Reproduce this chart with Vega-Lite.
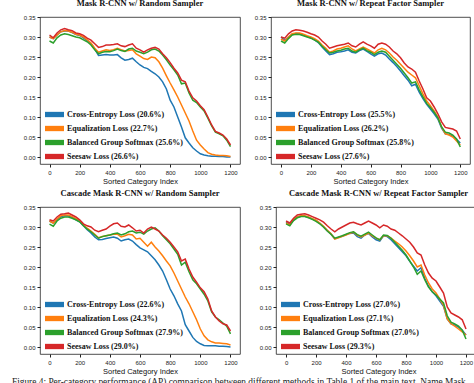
{
"$schema": "https://vega.github.io/schema/vega-lite/v6.json",
"padding": {"left": 11, "top": -2, "right": 0, "bottom": 0},
"background": "white",
"datasets": {"d": [
{"p":1,"x":0,"ce":0.300,"eql":0.300,"bgs":0.290,"ss":0.305},
{"p":1,"x":25,"ce":0.296,"eql":0.296,"bgs":0.285,"ss":0.298},
{"p":1,"x":50,"ce":0.305,"eql":0.305,"bgs":0.298,"ss":0.310},
{"p":1,"x":75,"ce":0.313,"eql":0.313,"bgs":0.305,"ss":0.318},
{"p":1,"x":100,"ce":0.315,"eql":0.316,"bgs":0.308,"ss":0.321},
{"p":1,"x":125,"ce":0.315,"eql":0.315,"bgs":0.306,"ss":0.318},
{"p":1,"x":150,"ce":0.311,"eql":0.312,"bgs":0.303,"ss":0.316},
{"p":1,"x":175,"ce":0.306,"eql":0.307,"bgs":0.300,"ss":0.310},
{"p":1,"x":200,"ce":0.304,"eql":0.305,"bgs":0.298,"ss":0.308},
{"p":1,"x":225,"ce":0.298,"eql":0.300,"bgs":0.293,"ss":0.304},
{"p":1,"x":250,"ce":0.291,"eql":0.293,"bgs":0.288,"ss":0.297},
{"p":1,"x":275,"ce":0.283,"eql":0.285,"bgs":0.280,"ss":0.292},
{"p":1,"x":300,"ce":0.270,"eql":0.272,"bgs":0.268,"ss":0.283},
{"p":1,"x":325,"ce":0.254,"eql":0.262,"bgs":0.258,"ss":0.274},
{"p":1,"x":350,"ce":0.255,"eql":0.265,"bgs":0.262,"ss":0.276},
{"p":1,"x":375,"ce":0.256,"eql":0.268,"bgs":0.264,"ss":0.280},
{"p":1,"x":400,"ce":0.255,"eql":0.266,"bgs":0.263,"ss":0.280},
{"p":1,"x":425,"ce":0.255,"eql":0.268,"bgs":0.266,"ss":0.281},
{"p":1,"x":450,"ce":0.256,"eql":0.272,"bgs":0.270,"ss":0.283},
{"p":1,"x":475,"ce":0.248,"eql":0.268,"bgs":0.266,"ss":0.278},
{"p":1,"x":500,"ce":0.242,"eql":0.265,"bgs":0.264,"ss":0.276},
{"p":1,"x":525,"ce":0.244,"eql":0.266,"bgs":0.270,"ss":0.280},
{"p":1,"x":550,"ce":0.247,"eql":0.268,"bgs":0.272,"ss":0.283},
{"p":1,"x":575,"ce":0.238,"eql":0.258,"bgs":0.265,"ss":0.272},
{"p":1,"x":600,"ce":0.230,"eql":0.252,"bgs":0.262,"ss":0.268},
{"p":1,"x":625,"ce":0.224,"eql":0.246,"bgs":0.258,"ss":0.262},
{"p":1,"x":650,"ce":0.221,"eql":0.244,"bgs":0.262,"ss":0.268},
{"p":1,"x":675,"ce":0.214,"eql":0.250,"bgs":0.268,"ss":0.272},
{"p":1,"x":700,"ce":0.208,"eql":0.248,"bgs":0.270,"ss":0.274},
{"p":1,"x":725,"ce":0.200,"eql":0.238,"bgs":0.265,"ss":0.270},
{"p":1,"x":750,"ce":0.188,"eql":0.222,"bgs":0.255,"ss":0.258},
{"p":1,"x":775,"ce":0.170,"eql":0.203,"bgs":0.243,"ss":0.248},
{"p":1,"x":800,"ce":0.142,"eql":0.185,"bgs":0.230,"ss":0.236},
{"p":1,"x":825,"ce":0.125,"eql":0.168,"bgs":0.218,"ss":0.222},
{"p":1,"x":850,"ce":0.100,"eql":0.150,"bgs":0.205,"ss":0.210},
{"p":1,"x":875,"ce":0.075,"eql":0.130,"bgs":0.183,"ss":0.192},
{"p":1,"x":900,"ce":0.048,"eql":0.110,"bgs":0.185,"ss":0.188},
{"p":1,"x":925,"ce":0.035,"eql":0.090,"bgs":0.160,"ss":0.165},
{"p":1,"x":950,"ce":0.023,"eql":0.065,"bgs":0.142,"ss":0.148},
{"p":1,"x":975,"ce":0.015,"eql":0.042,"bgs":0.136,"ss":0.140},
{"p":1,"x":1000,"ce":0.008,"eql":0.030,"bgs":0.125,"ss":0.128},
{"p":1,"x":1025,"ce":0.005,"eql":0.020,"bgs":0.115,"ss":0.118},
{"p":1,"x":1050,"ce":0.003,"eql":0.011,"bgs":0.097,"ss":0.100},
{"p":1,"x":1075,"ce":0.002,"eql":0.007,"bgs":0.078,"ss":0.080},
{"p":1,"x":1100,"ce":0.002,"eql":0.005,"bgs":0.062,"ss":0.064},
{"p":1,"x":1125,"ce":0.001,"eql":0.004,"bgs":0.058,"ss":0.060},
{"p":1,"x":1150,"ce":0.001,"eql":0.004,"bgs":0.053,"ss":0.055},
{"p":1,"x":1175,"ce":0.000,"eql":0.003,"bgs":0.042,"ss":0.045},
{"p":1,"x":1200,"ce":0.000,"eql":0.001,"bgs":0.026,"ss":0.030},
{"p":2,"x":0,"ce":0.300,"eql":0.295,"bgs":0.290,"ss":0.300},
{"p":2,"x":25,"ce":0.292,"eql":0.290,"bgs":0.285,"ss":0.297},
{"p":2,"x":50,"ce":0.300,"eql":0.300,"bgs":0.296,"ss":0.308},
{"p":2,"x":75,"ce":0.307,"eql":0.308,"bgs":0.305,"ss":0.315},
{"p":2,"x":100,"ce":0.309,"eql":0.310,"bgs":0.307,"ss":0.318},
{"p":2,"x":125,"ce":0.308,"eql":0.310,"bgs":0.306,"ss":0.317},
{"p":2,"x":150,"ce":0.305,"eql":0.307,"bgs":0.303,"ss":0.315},
{"p":2,"x":175,"ce":0.301,"eql":0.303,"bgs":0.300,"ss":0.312},
{"p":2,"x":200,"ce":0.298,"eql":0.300,"bgs":0.297,"ss":0.308},
{"p":2,"x":225,"ce":0.293,"eql":0.296,"bgs":0.292,"ss":0.305},
{"p":2,"x":250,"ce":0.286,"eql":0.290,"bgs":0.287,"ss":0.300},
{"p":2,"x":275,"ce":0.275,"eql":0.280,"bgs":0.277,"ss":0.290},
{"p":2,"x":300,"ce":0.265,"eql":0.272,"bgs":0.268,"ss":0.282},
{"p":2,"x":325,"ce":0.256,"eql":0.262,"bgs":0.260,"ss":0.272},
{"p":2,"x":350,"ce":0.258,"eql":0.265,"bgs":0.262,"ss":0.275},
{"p":2,"x":375,"ce":0.262,"eql":0.270,"bgs":0.265,"ss":0.278},
{"p":2,"x":400,"ce":0.263,"eql":0.272,"bgs":0.267,"ss":0.280},
{"p":2,"x":425,"ce":0.265,"eql":0.275,"bgs":0.270,"ss":0.282},
{"p":2,"x":450,"ce":0.268,"eql":0.278,"bgs":0.272,"ss":0.285},
{"p":2,"x":475,"ce":0.262,"eql":0.270,"bgs":0.265,"ss":0.278},
{"p":2,"x":500,"ce":0.260,"eql":0.265,"bgs":0.262,"ss":0.275},
{"p":2,"x":525,"ce":0.266,"eql":0.270,"bgs":0.268,"ss":0.282},
{"p":2,"x":550,"ce":0.270,"eql":0.275,"bgs":0.272,"ss":0.288},
{"p":2,"x":575,"ce":0.264,"eql":0.270,"bgs":0.266,"ss":0.282},
{"p":2,"x":600,"ce":0.258,"eql":0.265,"bgs":0.262,"ss":0.278},
{"p":2,"x":625,"ce":0.252,"eql":0.260,"bgs":0.256,"ss":0.272},
{"p":2,"x":650,"ce":0.258,"eql":0.268,"bgs":0.262,"ss":0.282},
{"p":2,"x":675,"ce":0.260,"eql":0.272,"bgs":0.265,"ss":0.285},
{"p":2,"x":700,"ce":0.255,"eql":0.268,"bgs":0.262,"ss":0.282},
{"p":2,"x":725,"ce":0.245,"eql":0.260,"bgs":0.252,"ss":0.275},
{"p":2,"x":750,"ce":0.236,"eql":0.250,"bgs":0.242,"ss":0.265},
{"p":2,"x":775,"ce":0.226,"eql":0.242,"bgs":0.232,"ss":0.258},
{"p":2,"x":800,"ce":0.215,"eql":0.232,"bgs":0.222,"ss":0.248},
{"p":2,"x":825,"ce":0.203,"eql":0.222,"bgs":0.210,"ss":0.235},
{"p":2,"x":850,"ce":0.192,"eql":0.212,"bgs":0.198,"ss":0.225},
{"p":2,"x":875,"ce":0.178,"eql":0.205,"bgs":0.185,"ss":0.220},
{"p":2,"x":900,"ce":0.182,"eql":0.198,"bgs":0.188,"ss":0.212},
{"p":2,"x":925,"ce":0.162,"eql":0.178,"bgs":0.168,"ss":0.190},
{"p":2,"x":950,"ce":0.146,"eql":0.158,"bgs":0.150,"ss":0.170},
{"p":2,"x":975,"ce":0.132,"eql":0.140,"bgs":0.134,"ss":0.148},
{"p":2,"x":1000,"ce":0.120,"eql":0.128,"bgs":0.124,"ss":0.140},
{"p":2,"x":1025,"ce":0.108,"eql":0.115,"bgs":0.112,"ss":0.125},
{"p":2,"x":1050,"ce":0.095,"eql":0.100,"bgs":0.098,"ss":0.108},
{"p":2,"x":1075,"ce":0.072,"eql":0.075,"bgs":0.075,"ss":0.088},
{"p":2,"x":1100,"ce":0.058,"eql":0.058,"bgs":0.062,"ss":0.074},
{"p":2,"x":1125,"ce":0.056,"eql":0.055,"bgs":0.060,"ss":0.072},
{"p":2,"x":1150,"ce":0.052,"eql":0.050,"bgs":0.055,"ss":0.070},
{"p":2,"x":1175,"ce":0.044,"eql":0.040,"bgs":0.045,"ss":0.065},
{"p":2,"x":1200,"ce":0.035,"eql":0.030,"bgs":0.025,"ss":0.045},
{"p":3,"x":0,"ce":0.315,"eql":0.315,"bgs":0.307,"ss":0.318},
{"p":3,"x":25,"ce":0.310,"eql":0.310,"bgs":0.302,"ss":0.315},
{"p":3,"x":50,"ce":0.318,"eql":0.320,"bgs":0.315,"ss":0.325},
{"p":3,"x":75,"ce":0.326,"eql":0.328,"bgs":0.322,"ss":0.332},
{"p":3,"x":100,"ce":0.328,"eql":0.330,"bgs":0.325,"ss":0.333},
{"p":3,"x":125,"ce":0.328,"eql":0.330,"bgs":0.325,"ss":0.335},
{"p":3,"x":150,"ce":0.324,"eql":0.326,"bgs":0.322,"ss":0.330},
{"p":3,"x":175,"ce":0.318,"eql":0.321,"bgs":0.318,"ss":0.325},
{"p":3,"x":200,"ce":0.313,"eql":0.316,"bgs":0.313,"ss":0.318},
{"p":3,"x":225,"ce":0.303,"eql":0.305,"bgs":0.303,"ss":0.308},
{"p":3,"x":250,"ce":0.293,"eql":0.297,"bgs":0.295,"ss":0.303},
{"p":3,"x":275,"ce":0.285,"eql":0.290,"bgs":0.288,"ss":0.300},
{"p":3,"x":300,"ce":0.275,"eql":0.282,"bgs":0.280,"ss":0.292},
{"p":3,"x":325,"ce":0.268,"eql":0.273,"bgs":0.272,"ss":0.288},
{"p":3,"x":350,"ce":0.269,"eql":0.276,"bgs":0.276,"ss":0.292},
{"p":3,"x":375,"ce":0.271,"eql":0.278,"bgs":0.278,"ss":0.295},
{"p":3,"x":400,"ce":0.273,"eql":0.280,"bgs":0.280,"ss":0.302},
{"p":3,"x":425,"ce":0.275,"eql":0.282,"bgs":0.283,"ss":0.308},
{"p":3,"x":450,"ce":0.272,"eql":0.282,"bgs":0.285,"ss":0.310},
{"p":3,"x":475,"ce":0.265,"eql":0.275,"bgs":0.280,"ss":0.302},
{"p":3,"x":500,"ce":0.268,"eql":0.278,"bgs":0.283,"ss":0.300},
{"p":3,"x":525,"ce":0.270,"eql":0.282,"bgs":0.288,"ss":0.305},
{"p":3,"x":550,"ce":0.265,"eql":0.280,"bgs":0.290,"ss":0.298},
{"p":3,"x":575,"ce":0.256,"eql":0.270,"bgs":0.285,"ss":0.290},
{"p":3,"x":600,"ce":0.248,"eql":0.272,"bgs":0.287,"ss":0.292},
{"p":3,"x":625,"ce":0.243,"eql":0.262,"bgs":0.282,"ss":0.285},
{"p":3,"x":650,"ce":0.238,"eql":0.252,"bgs":0.290,"ss":0.295},
{"p":3,"x":675,"ce":0.228,"eql":0.262,"bgs":0.295,"ss":0.300},
{"p":3,"x":700,"ce":0.218,"eql":0.250,"bgs":0.298,"ss":0.295},
{"p":3,"x":725,"ce":0.205,"eql":0.240,"bgs":0.290,"ss":0.290},
{"p":3,"x":750,"ce":0.190,"eql":0.228,"bgs":0.278,"ss":0.280},
{"p":3,"x":775,"ce":0.168,"eql":0.215,"bgs":0.268,"ss":0.272},
{"p":3,"x":800,"ce":0.145,"eql":0.203,"bgs":0.258,"ss":0.262},
{"p":3,"x":825,"ce":0.128,"eql":0.185,"bgs":0.245,"ss":0.250},
{"p":3,"x":850,"ce":0.108,"eql":0.165,"bgs":0.232,"ss":0.238},
{"p":3,"x":875,"ce":0.090,"eql":0.145,"bgs":0.205,"ss":0.215},
{"p":3,"x":900,"ce":0.056,"eql":0.125,"bgs":0.212,"ss":0.220},
{"p":3,"x":925,"ce":0.040,"eql":0.108,"bgs":0.188,"ss":0.195},
{"p":3,"x":950,"ce":0.024,"eql":0.088,"bgs":0.168,"ss":0.175},
{"p":3,"x":975,"ce":0.014,"eql":0.068,"bgs":0.158,"ss":0.162},
{"p":3,"x":1000,"ce":0.008,"eql":0.045,"bgs":0.145,"ss":0.148},
{"p":3,"x":1025,"ce":0.004,"eql":0.028,"bgs":0.132,"ss":0.138},
{"p":3,"x":1050,"ce":0.003,"eql":0.018,"bgs":0.115,"ss":0.120},
{"p":3,"x":1075,"ce":0.003,"eql":0.013,"bgs":0.088,"ss":0.090},
{"p":3,"x":1100,"ce":0.003,"eql":0.010,"bgs":0.075,"ss":0.075},
{"p":3,"x":1125,"ce":0.002,"eql":0.010,"bgs":0.068,"ss":0.065},
{"p":3,"x":1150,"ce":0.002,"eql":0.009,"bgs":0.060,"ss":0.058},
{"p":3,"x":1175,"ce":0.001,"eql":0.008,"bgs":0.052,"ss":0.055},
{"p":3,"x":1200,"ce":0.000,"eql":0.005,"bgs":0.033,"ss":0.040},
{"p":4,"x":0,"ce":0.312,"eql":0.310,"bgs":0.308,"ss":0.315},
{"p":4,"x":25,"ce":0.306,"eql":0.305,"bgs":0.303,"ss":0.310},
{"p":4,"x":50,"ce":0.318,"eql":0.318,"bgs":0.316,"ss":0.322},
{"p":4,"x":75,"ce":0.325,"eql":0.325,"bgs":0.323,"ss":0.330},
{"p":4,"x":100,"ce":0.327,"eql":0.328,"bgs":0.326,"ss":0.332},
{"p":4,"x":125,"ce":0.327,"eql":0.328,"bgs":0.326,"ss":0.333},
{"p":4,"x":150,"ce":0.324,"eql":0.325,"bgs":0.323,"ss":0.330},
{"p":4,"x":175,"ce":0.320,"eql":0.321,"bgs":0.319,"ss":0.326},
{"p":4,"x":200,"ce":0.316,"eql":0.317,"bgs":0.314,"ss":0.322},
{"p":4,"x":225,"ce":0.309,"eql":0.310,"bgs":0.308,"ss":0.318},
{"p":4,"x":250,"ce":0.300,"eql":0.302,"bgs":0.300,"ss":0.312},
{"p":4,"x":275,"ce":0.291,"eql":0.292,"bgs":0.290,"ss":0.303},
{"p":4,"x":300,"ce":0.282,"eql":0.283,"bgs":0.282,"ss":0.295},
{"p":4,"x":325,"ce":0.271,"eql":0.270,"bgs":0.272,"ss":0.288},
{"p":4,"x":350,"ce":0.274,"eql":0.273,"bgs":0.275,"ss":0.295},
{"p":4,"x":375,"ce":0.277,"eql":0.277,"bgs":0.278,"ss":0.300},
{"p":4,"x":400,"ce":0.281,"eql":0.280,"bgs":0.282,"ss":0.305},
{"p":4,"x":425,"ce":0.284,"eql":0.284,"bgs":0.286,"ss":0.310},
{"p":4,"x":450,"ce":0.285,"eql":0.287,"bgs":0.288,"ss":0.312},
{"p":4,"x":475,"ce":0.276,"eql":0.280,"bgs":0.281,"ss":0.308},
{"p":4,"x":500,"ce":0.272,"eql":0.275,"bgs":0.277,"ss":0.305},
{"p":4,"x":525,"ce":0.280,"eql":0.280,"bgs":0.282,"ss":0.310},
{"p":4,"x":550,"ce":0.284,"eql":0.285,"bgs":0.287,"ss":0.315},
{"p":4,"x":575,"ce":0.275,"eql":0.278,"bgs":0.280,"ss":0.310},
{"p":4,"x":600,"ce":0.268,"eql":0.272,"bgs":0.273,"ss":0.305},
{"p":4,"x":625,"ce":0.265,"eql":0.268,"bgs":0.268,"ss":0.298},
{"p":4,"x":650,"ce":0.278,"eql":0.278,"bgs":0.280,"ss":0.305},
{"p":4,"x":675,"ce":0.276,"eql":0.278,"bgs":0.279,"ss":0.302},
{"p":4,"x":700,"ce":0.268,"eql":0.272,"bgs":0.272,"ss":0.295},
{"p":4,"x":725,"ce":0.258,"eql":0.265,"bgs":0.262,"ss":0.292},
{"p":4,"x":750,"ce":0.248,"eql":0.258,"bgs":0.252,"ss":0.285},
{"p":4,"x":775,"ce":0.238,"eql":0.250,"bgs":0.242,"ss":0.278},
{"p":4,"x":800,"ce":0.228,"eql":0.240,"bgs":0.230,"ss":0.270},
{"p":4,"x":825,"ce":0.214,"eql":0.228,"bgs":0.215,"ss":0.262},
{"p":4,"x":850,"ce":0.202,"eql":0.215,"bgs":0.200,"ss":0.250},
{"p":4,"x":875,"ce":0.190,"eql":0.200,"bgs":0.182,"ss":0.235},
{"p":4,"x":900,"ce":0.198,"eql":0.205,"bgs":0.190,"ss":0.230},
{"p":4,"x":925,"ce":0.172,"eql":0.180,"bgs":0.168,"ss":0.205},
{"p":4,"x":950,"ce":0.152,"eql":0.160,"bgs":0.150,"ss":0.185},
{"p":4,"x":975,"ce":0.138,"eql":0.145,"bgs":0.138,"ss":0.172},
{"p":4,"x":1000,"ce":0.128,"eql":0.135,"bgs":0.130,"ss":0.165},
{"p":4,"x":1025,"ce":0.115,"eql":0.120,"bgs":0.120,"ss":0.150},
{"p":4,"x":1050,"ce":0.102,"eql":0.105,"bgs":0.110,"ss":0.135},
{"p":4,"x":1075,"ce":0.070,"eql":0.070,"bgs":0.078,"ss":0.100},
{"p":4,"x":1100,"ce":0.058,"eql":0.058,"bgs":0.062,"ss":0.085},
{"p":4,"x":1125,"ce":0.055,"eql":0.052,"bgs":0.058,"ss":0.080},
{"p":4,"x":1150,"ce":0.050,"eql":0.045,"bgs":0.052,"ss":0.075},
{"p":4,"x":1175,"ce":0.042,"eql":0.038,"bgs":0.042,"ss":0.068},
{"p":4,"x":1200,"ce":0.030,"eql":0.030,"bgs":0.020,"ss":0.045}
]},
"title": {"text": "Figure 4: Per-category performance (AP) comparison between different methods in Table 1 of the main text. Name Mask", "orient": "bottom", "anchor": "start", "dx": -11, "offset": 3, "font": "Liberation Serif", "fontSize": 9.4, "fontWeight": "normal", "color": "#222"},
"spacing": 3,
"resolve": {"scale": {"color": "independent", "x": "independent", "y": "independent"}, "legend": {"color": "independent"}},
"vconcat": [
{"hconcat": [
{"title": "Mask R-CNN w/ Random Sampler", "width": 200, "height": 147, "data": {"name": "d"},
 "transform": [{"filter": "datum.p == 1"}, {"fold": ["ce","eql","bgs","ss"], "as": ["k","v"]}],
 "mark": {"type": "line", "strokeWidth": 1.5, "clip": true},
 "encoding": {
  "x": {"field": "x", "type": "quantitative", "scale": {"domain": [-63, 1263], "nice": false, "zero": false}, "axis": {"values": [0,200,400,600,800,1000,1200], "format": "d", "title": "Sorted Category Index"}},
  "y": {"field": "v", "type": "quantitative", "scale": {"domain": [-0.0175, 0.35], "nice": false, "zero": false}, "axis": {"values": [0,0.05,0.1,0.15,0.2,0.25,0.3,0.35], "format": ".2f", "title": null}},
  "color": {"field": "k", "type": "nominal", "scale": {"domain": ["ce","eql","bgs","ss"], "range": ["#1f77b4","#ff7f0e","#2ca02c","#d62728"]}, "legend": {"title": null, "encode": {"symbols": {"update": {"fill": {"signal": "datum.value == 'ce' ? '#1f77b4' : datum.value == 'eql' ? '#ff7f0e' : datum.value == 'bgs' ? '#2ca02c' : '#d62728'"}, "fillOpacity": {"value": 1}}}}, "labelExpr": "datum.label == 'ce' ? 'Cross-Entropy Loss (20.6%)' : datum.label == 'eql' ? 'Equalization Loss (22.7%)' : datum.label == 'bgs' ? 'Balanced Group Softmax (25.6%)' : 'Seesaw Loss (26.6%)'"}}
 }},
{"title": "Mask R-CNN w/  Repeat Factor Sampler", "width": 199, "height": 147, "data": {"name": "d"},
 "transform": [{"filter": "datum.p == 2"}, {"fold": ["ce","eql","bgs","ss"], "as": ["k","v"]}],
 "mark": {"type": "line", "strokeWidth": 1.5, "clip": true},
 "encoding": {
  "x": {"field": "x", "type": "quantitative", "scale": {"domain": [-67, 1265], "nice": false, "zero": false}, "axis": {"values": [0,200,400,600,800,1000,1200], "format": "d", "title": "Sorted Category Index"}},
  "y": {"field": "v", "type": "quantitative", "scale": {"domain": [-0.0175, 0.35], "nice": false, "zero": false}, "axis": {"values": [0,0.05,0.1,0.15,0.2,0.25,0.3,0.35], "format": ".2f", "title": null}},
  "color": {"field": "k", "type": "nominal", "scale": {"domain": ["ce","eql","bgs","ss"], "range": ["#1f77b4","#ff7f0e","#2ca02c","#d62728"]}, "legend": {"title": null, "encode": {"symbols": {"update": {"fill": {"signal": "datum.value == 'ce' ? '#1f77b4' : datum.value == 'eql' ? '#ff7f0e' : datum.value == 'bgs' ? '#2ca02c' : '#d62728'"}, "fillOpacity": {"value": 1}}}}, "labelExpr": "datum.label == 'ce' ? 'Cross-Entropy Loss (25.5%)' : datum.label == 'eql' ? 'Equalization Loss (26.2%)' : datum.label == 'bgs' ? 'Balanced Group Softmax (25.8%)' : 'Seesaw Loss (27.6%)'"}}
 }}
], "spacing": 12, "resolve": {"scale": {"color": "independent", "x": "independent", "y": "independent"}, "legend": {"color": "independent"}}},
{"hconcat": [
{"title": "Cascade Mask R-CNN w/ Random Sampler", "width": 200, "height": 147, "data": {"name": "d"},
 "transform": [{"filter": "datum.p == 3"}, {"fold": ["ce","eql","bgs","ss"], "as": ["k","v"]}],
 "mark": {"type": "line", "strokeWidth": 1.5, "clip": true},
 "encoding": {
  "x": {"field": "x", "type": "quantitative", "scale": {"domain": [-63, 1263], "nice": false, "zero": false}, "axis": {"values": [0,200,400,600,800,1000,1200], "format": "d", "title": "Sorted Category Index"}},
  "y": {"field": "v", "type": "quantitative", "scale": {"domain": [-0.0175, 0.35], "nice": false, "zero": false}, "axis": {"values": [0,0.05,0.1,0.15,0.2,0.25,0.3,0.35], "format": ".2f", "title": null}},
  "color": {"field": "k", "type": "nominal", "scale": {"domain": ["ce","eql","bgs","ss"], "range": ["#1f77b4","#ff7f0e","#2ca02c","#d62728"]}, "legend": {"title": null, "encode": {"symbols": {"update": {"fill": {"signal": "datum.value == 'ce' ? '#1f77b4' : datum.value == 'eql' ? '#ff7f0e' : datum.value == 'bgs' ? '#2ca02c' : '#d62728'"}, "fillOpacity": {"value": 1}}}}, "labelExpr": "datum.label == 'ce' ? 'Cross-Entropy Loss (22.6%)' : datum.label == 'eql' ? 'Equalization Loss (24.3%)' : datum.label == 'bgs' ? 'Balanced Group Softmax (27.9%)' : 'Seesaw Loss (29.0%)'"}}
 }},
{"title": "Cascade Mask R-CNN w/  Repeat Factor Sampler", "width": 205, "height": 147, "data": {"name": "d"},
 "transform": [{"filter": "datum.p == 4"}, {"fold": ["ce","eql","bgs","ss"], "as": ["k","v"]}],
 "mark": {"type": "line", "strokeWidth": 1.5, "clip": true},
 "encoding": {
  "x": {"field": "x", "type": "quantitative", "scale": {"domain": [-67, 1300], "nice": false, "zero": false}, "axis": {"values": [0,200,400,600,800,1000,1200], "format": "d", "title": "Sorted Category Index"}},
  "y": {"field": "v", "type": "quantitative", "scale": {"domain": [-0.0175, 0.35], "nice": false, "zero": false}, "axis": {"values": [0,0.05,0.1,0.15,0.2,0.25,0.3,0.35], "format": ".2f", "title": null}},
  "color": {"field": "k", "type": "nominal", "scale": {"domain": ["ce","eql","bgs","ss"], "range": ["#1f77b4","#ff7f0e","#2ca02c","#d62728"]}, "legend": {"title": null, "encode": {"symbols": {"update": {"fill": {"signal": "datum.value == 'ce' ? '#1f77b4' : datum.value == 'eql' ? '#ff7f0e' : datum.value == 'bgs' ? '#2ca02c' : '#d62728'"}, "fillOpacity": {"value": 1}}}}, "labelExpr": "datum.label == 'ce' ? 'Cross-Entropy Loss (27.0%)' : datum.label == 'eql' ? 'Equalization Loss (27.1%)' : datum.label == 'bgs' ? 'Balanced Group Softmax (27.0%)' : 'Seesaw Loss (29.3%)'"}}
 }}
], "spacing": 17, "resolve": {"scale": {"color": "independent", "x": "independent", "y": "independent"}, "legend": {"color": "independent"}}}
],
"config": {
 "view": {"stroke": "#222", "strokeWidth": 0.8},
 "axis": {"grid": false, "domain": false, "tickColor": "#222", "tickSize": 3, "labelFont": "Liberation Sans", "labelFontSize": 6, "labelColor": "#222", "labelPadding": 2, "titleFont": "Liberation Sans", "titleFontSize": 7.5, "titleFontWeight": "normal", "titleColor": "#111", "titlePadding": 2},
 "legend": {"orient": "bottom-left", "offset": 3, "padding": 0, "labelFont": "Liberation Serif", "labelFontSize": 8, "labelFontWeight": "bold", "labelColor": "#111", "symbolType": "M-1,-0.28L1,-0.28L1,0.28L-1,0.28Z", "symbolSize": 361, "symbolStrokeWidth": 0, "symbolOffset": 2, "labelOffset": 3, "rowPadding": 0, "labelLimit": 250},
 "title": {"font": "Liberation Serif", "fontSize": 8.5, "fontWeight": "bold", "color": "#111", "offset": 7}
}
}
